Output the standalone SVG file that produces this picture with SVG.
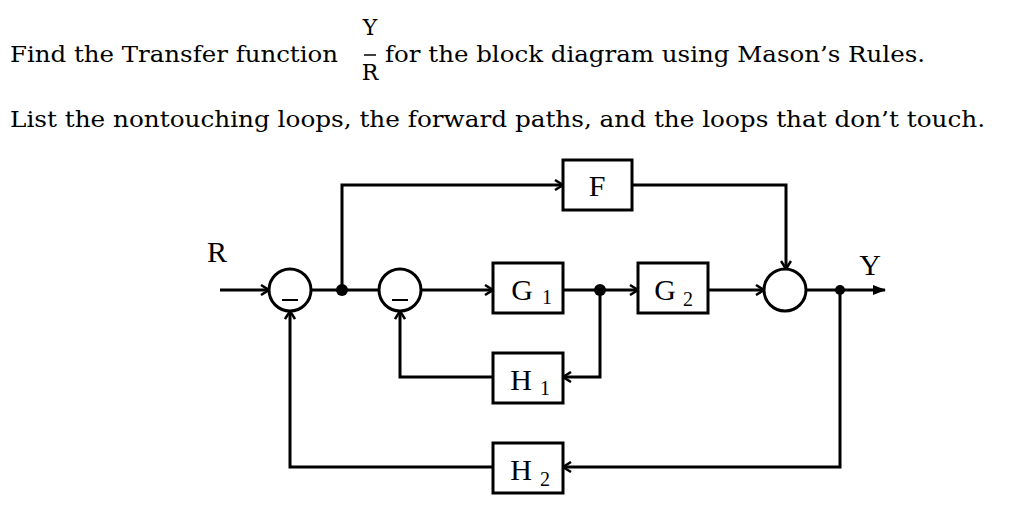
<svg xmlns="http://www.w3.org/2000/svg" width="1022" height="526" viewBox="0 0 1022 526">
<style>
.t{font-family:"DejaVu Serif","Liberation Serif",serif;font-size:22px;fill:#000}
.b{font-family:"Liberation Serif",serif;font-size:30px;fill:#000}
.s{font-family:"Liberation Serif",serif;font-size:20px;fill:#000}
.bx{fill:#fff;stroke:#000;stroke-width:3}
.c{fill:#fff;stroke:#000;stroke-width:3}
.ln{fill:none;stroke:#000;stroke-width:3}
</style>
<defs>
<marker id="a" markerWidth="12" markerHeight="12" refX="10" refY="6" orient="auto" markerUnits="userSpaceOnUse">
<path d="M2,1 L10,6 L2,11" fill="none" stroke="#000" stroke-width="2.5"/>
</marker>
<marker id="f" markerWidth="14" markerHeight="12" refX="12" refY="6" orient="auto" markerUnits="userSpaceOnUse">
<path d="M0,1 L13,6 L0,11 Z" fill="#000"/>
</marker>
</defs>
<rect width="1022" height="526" fill="#fff"/>
<text class="t" x="10" y="62" textLength="328" lengthAdjust="spacingAndGlyphs">Find the Transfer function</text>
<text class="t" x="370" y="35" text-anchor="middle">Y</text>
<line x1="364" y1="55" x2="376" y2="55" stroke="#000" stroke-width="1.5"/>
<text class="t" x="370" y="80" text-anchor="middle">R</text>
<text class="t" x="385" y="62" textLength="540" lengthAdjust="spacingAndGlyphs">for the block diagram using Mason’s Rules.</text>
<text class="t" x="10" y="127" textLength="975" lengthAdjust="spacingAndGlyphs">List the nontouching loops, the forward paths, and the loops that don’t touch.</text>
<g id="connectors">
<line class="ln" x1="220" y1="290" x2="269" y2="290" marker-end="url(#a)"/>
<line class="ln" x1="311" y1="290" x2="379" y2="290"/>
<line class="ln" x1="421" y1="290" x2="493" y2="290" marker-end="url(#a)"/>
<line class="ln" x1="563" y1="290" x2="638" y2="290" marker-end="url(#a)"/>
<line class="ln" x1="708" y1="290" x2="764" y2="290" marker-end="url(#a)"/>
<line class="ln" x1="806" y1="290" x2="885" y2="290" marker-end="url(#f)"/>
<polyline class="ln" points="342,290 342,185 563,185" marker-end="url(#a)"/>
<polyline class="ln" points="632,185 786,185 786,269" marker-end="url(#a)"/>
<polyline class="ln" points="600,290 600,377 563,377" marker-end="url(#a)"/>
<polyline class="ln" points="493,377 400,377 400,311" marker-end="url(#a)"/>
<polyline class="ln" points="840,290 840,467 563,467" marker-end="url(#a)"/>
<polyline class="ln" points="493,467 290,467 290,311" marker-end="url(#a)"/>
<circle cx="342" cy="290" r="6" fill="#000"/>
<circle cx="600" cy="290" r="6" fill="#000"/>
<circle cx="840" cy="290" r="5" fill="#000"/>
</g>
<g id="R"><text class="b" x="217" y="262" text-anchor="middle">R</text></g>
<g id="Y"><text class="b" x="870" y="275" text-anchor="middle">Y</text></g>
<g id="sum1"><circle class="c" cx="290" cy="290" r="21"/><line x1="282" y1="300" x2="298" y2="300" stroke="#000" stroke-width="2"/></g>
<g id="sum2"><circle class="c" cx="400" cy="290" r="21"/><line x1="392" y1="300" x2="408" y2="300" stroke="#000" stroke-width="2"/></g>
<g id="sum3"><circle class="c" cx="785" cy="290" r="21"/></g>
<g id="F"><rect class="bx" x="563" y="160" width="69" height="50"/><text class="b" x="597" y="196" text-anchor="middle">F</text></g>
<g id="G1"><rect class="bx" x="493" y="263" width="70" height="50"/><text class="b" x="522" y="300" text-anchor="middle">G</text><text class="s" x="542" y="304">1</text></g>
<g id="G2"><rect class="bx" x="638" y="263" width="70" height="50"/><text class="b" x="665" y="300" text-anchor="middle">G</text><text class="s" x="683" y="306">2</text></g>
<g id="H1"><rect class="bx" x="493" y="353" width="70" height="50"/><text class="b" x="521" y="390" text-anchor="middle">H</text><text class="s" x="540" y="395">1</text></g>
<g id="H2"><rect class="bx" x="493" y="443" width="70" height="50"/><text class="b" x="521" y="480" text-anchor="middle">H</text><text class="s" x="540" y="486">2</text></g>
</svg>
